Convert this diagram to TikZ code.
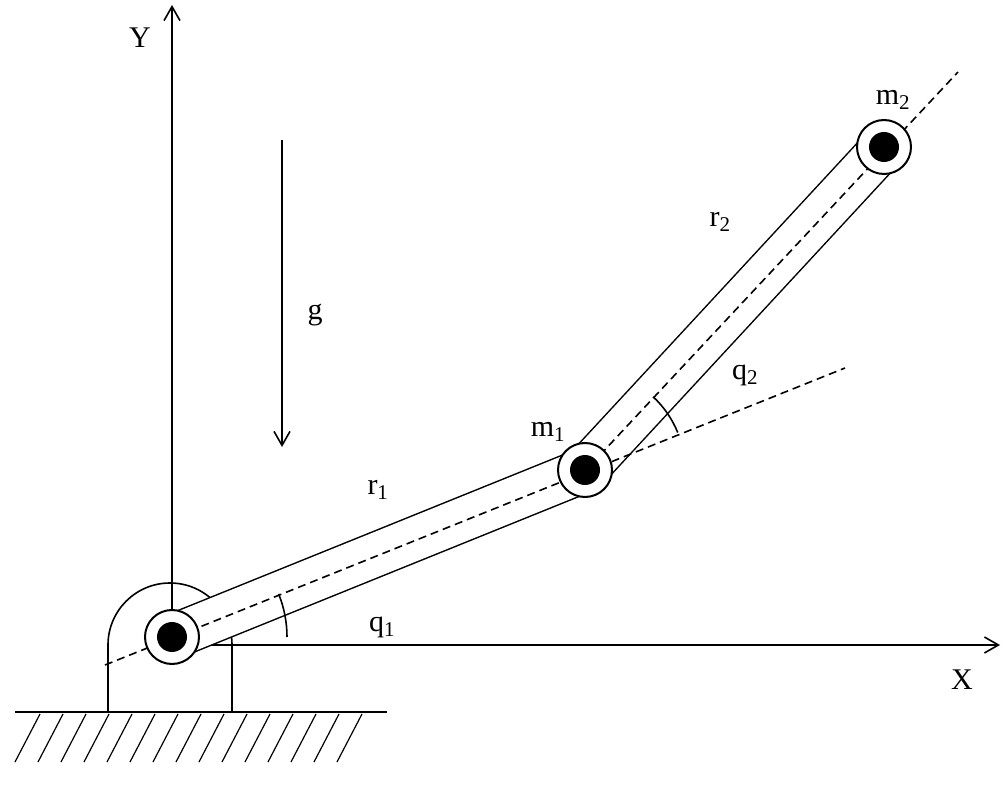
\documentclass[tikz,border=0pt]{standalone}
\usepackage{fontspec}
\setmainfont{Liberation Serif}
\usetikzlibrary{arrows.meta,calc}
\begin{document}
\begin{tikzpicture}[x=1pt,y=-1pt,line width=1.6pt,
  lbl/.style={font=\fontsize{30}{32}\selectfont},
  joint/.style={circle,draw,fill=white,minimum size=54pt,inner sep=0pt,line width=2pt},
  dot/.style={circle,fill=black,minimum size=30pt,inner sep=0pt},
  dsh/.style={dash pattern=on 8pt off 5pt},
  arr/.style={-{Straight Barb[length=14pt,width=16pt]}}]
\useasboundingbox (0,0) rectangle (1005,786);
\coordinate (O) at (172,637);
\coordinate (A) at (585,470);
\coordinate (B) at (884,147);
% ground
\draw (15,712) -- (387,712);
\foreach \i in {0,...,14} \draw[line width=1.2pt] (40+23*\i,714) -- (15+23*\i,762);
% base
\draw[fill=white] (108,712) -- (108,645) arc[start angle=180,end angle=360,radius=62] -- (232,712) -- cycle;
% axes
\draw[arr] (172,637) -- (172,5);
\draw[arr] (200,645) -- (1000,645);
\draw[arr] (282,140) -- (282,447);
% links
\draw[line width=46pt,line cap=round] (O) -- (A);
\draw[line width=43pt,line cap=round,white] (O) -- (A);
\draw[line width=46pt,line cap=round] (A) -- (B);
\draw[line width=43pt,line cap=round,white] (A) -- (B);
% dashed lines
\draw[dsh] (105,665) -- (845,368);
\draw[dsh] (600,455) -- (958,72);
% angle arcs
\draw (287,637) arc[start angle=0,end angle=-22,radius=115];
\draw ($(A)+(-22:100)$) arc[start angle=-22,end angle=-47,radius=100];
% joints
\node[joint] (jo) at (O) {}; \node[dot] at (O) {};
\node[joint] (ja) at (A) {}; \node[dot] at (A) {};
\node[joint] (jb) at (B) {}; \node[dot] at (B) {};
% labels
\node[lbl] (ly) at (140,38) {Y};
\node[lbl] (lx) at (962,680) {X};
\node[lbl] (lg) at (315,315) {g};
\node[lbl] (lr1) at (378,490) {r\textsubscript{1}};
\node[lbl] (lr2) at (720,222) {r\textsubscript{2}};
\node[lbl] (lm1) at (548,432) {m\textsubscript{1}};
\node[lbl] (lm2) at (893,100) {m\textsubscript{2}};
\node[lbl] (lq1) at (382,627) {q\textsubscript{1}};
\node[lbl] (lq2) at (745,375) {q\textsubscript{2}};
\end{tikzpicture}
\end{document}
